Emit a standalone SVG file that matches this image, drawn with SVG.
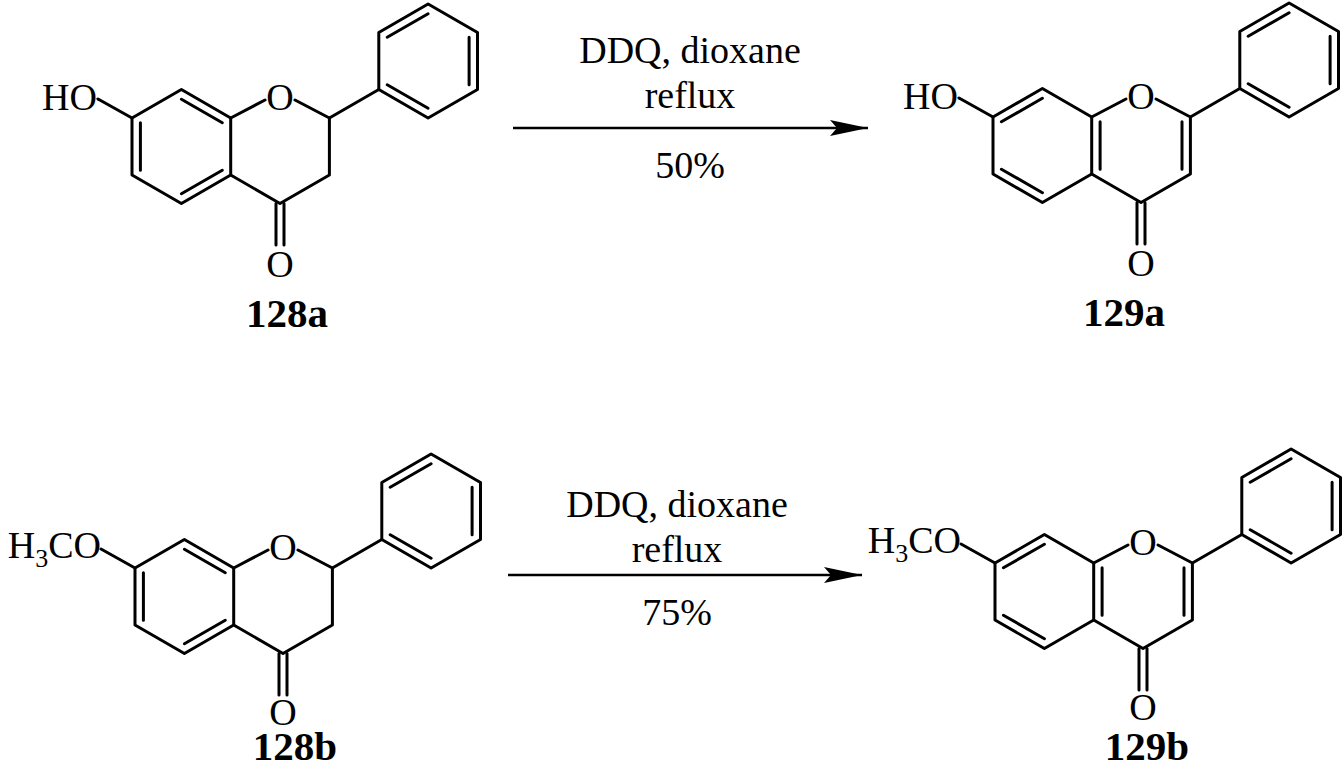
<svg xmlns="http://www.w3.org/2000/svg" xmlns:xlink="http://www.w3.org/1999/xlink" width="1342" height="768" viewBox="0 0 1342 768">
<style>
.b{stroke:#000;stroke-width:3;fill:none;stroke-linecap:round;stroke-linejoin:round}
text{font-family:'Liberation Serif','Times New Roman','DejaVu Serif',serif;fill:#000}
.t{font-size:38px}
.l{font-size:41px;font-weight:bold;text-anchor:middle}
.c{text-anchor:middle}
</style>
<defs>
<g id="phenyl" class="b">
<path d="M197.4,0 L246.8,-28.5"/>
<path d="M246.8,-28.5 L246.8,-85.5 L296.1,-114 L345.5,-85.5 L345.5,-28.5 L296.1,0 Z"/>
<path d="M255.2,-33.3 L296.1,-9.7 M255.2,-80.7 L296.1,-104.3 M337.1,-80.7 L337.1,-33.3"/>
</g>
<g id="core" class="b">
<path d="M-34,-19 L0,0"/>
<path d="M0,0 L49.4,-28.5 L98.7,0 L98.7,57 L49.4,85.5 L0,57 Z"/>
<path d="M98.7,0 L133,-18 M163,-18 L197.4,0 L197.4,57 L148,85.5 L98.7,57"/>
<path d="M144,85.5 L144,127 M152,85.5 L152,127"/>
<use xlink:href="#phenyl"/>
</g>
<g id="flavanone" class="b">
<use xlink:href="#core"/>
<path d="M49.4,-18.8 L90.3,4.8 M90.3,52.2 L49.4,75.8 M8.4,52.2 L8.4,4.8"/>
</g>
<g id="flavone" class="b">
<use xlink:href="#core"/>
<path d="M8.4,4.8 L49.4,-18.8 M49.4,75.8 L8.4,52.2 M107.1,4.8 L107.1,52.2 M189,4.8 L189,52.2"/>
</g>
<marker id="ah" markerUnits="userSpaceOnUse" markerWidth="40" markerHeight="20" refX="38" refY="10" orient="auto">
<path d="M0,2 L38,10 L0,18 L7,10 Z" fill="#000"/>
</marker>
</defs>

<g id="n128a" transform="translate(132,118)">
<use xlink:href="#flavanone"/>
<text class="t" x="-35" y="-8" text-anchor="end">HO</text>
<text class="t c" x="148" y="-8">O</text>
<text class="t c" x="148" y="159">O</text>
</g>
<text id="lab128a" class="l" x="287" y="327">128a</text>

<g id="n129a" transform="translate(993,117)">
<use xlink:href="#flavone"/>
<text class="t" x="-35" y="-8" text-anchor="end">HO</text>
<text class="t c" x="148" y="-8">O</text>
<text class="t c" x="148" y="159">O</text>
</g>
<text id="lab129a" class="l" x="1124" y="326">129a</text>

<g id="n128b" transform="translate(135,568)">
<use xlink:href="#flavanone"/>
<text class="t" x="-34" y="-10" text-anchor="end">H<tspan font-size="26" dy="9">3</tspan><tspan dy="-9">CO</tspan></text>
<text class="t c" x="148" y="-8">O</text>
<text class="t c" x="148" y="157">O</text>
</g>
<text id="lab128b" class="l" x="295" y="760">128b</text>

<g id="n129b" transform="translate(995,563)">
<use xlink:href="#flavone"/>
<text class="t" x="-34" y="-10" text-anchor="end">H<tspan font-size="26" dy="9">3</tspan><tspan dy="-9">CO</tspan></text>
<text class="t c" x="148" y="-8">O</text>
<text class="t c" x="148" y="157">O</text>
</g>
<text id="lab129b" class="l" x="1147" y="760">129b</text>

<g id="connectors">
<line x1="513" y1="128" x2="868" y2="128" stroke="#000" stroke-width="2.5" marker-end="url(#ah)"/>
<line x1="508" y1="575" x2="862" y2="575" stroke="#000" stroke-width="2.5" marker-end="url(#ah)"/>
<text class="t c" x="690" y="63">DDQ, dioxane</text>
<text class="t c" x="690" y="108">reflux</text>
<text class="t c" x="690" y="178">50%</text>
<text class="t c" x="677" y="517">DDQ, dioxane</text>
<text class="t c" x="677" y="562">reflux</text>
<text class="t c" x="677" y="625">75%</text>
</g>
</svg>
